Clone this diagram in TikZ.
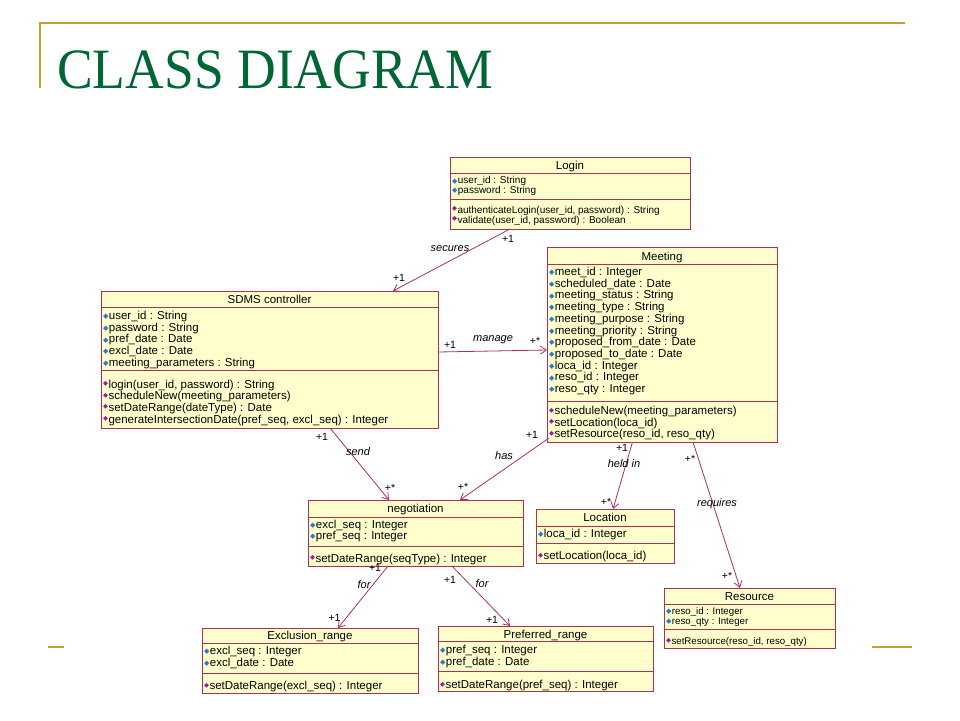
\documentclass[tikz,border=0pt]{standalone}
\usepackage{fontspec}
\usepackage{graphicx}
\setmainfont{Liberation Sans}
\newfontfamily\titlefont{Liberation Serif}
\newfontfamily\symfont{DejaVu Sans}
\usetikzlibrary{arrows.meta}
\definecolor{slidegold}{RGB}{198,160,44}
\definecolor{titlegreen}{RGB}{0,102,51}
\definecolor{boxfill}{RGB}{255,255,206}
\definecolor{boxred}{RGB}{178,48,78}
\definecolor{linkred}{RGB}{170,48,100}
\definecolor{attrblue}{RGB}{40,120,210}
\definecolor{methpurple}{RGB}{160,20,170}
\newcommand\ai{{\symfont\fontsize{7}{7}\selectfont\color{attrblue}\raisebox{0.2ex}{◆}}\hspace{0.3pt}}
\newcommand\mi{{\symfont\fontsize{6.5}{6.5}\selectfont\color{methpurple}\raisebox{0.7ex}{◆}}\hspace{0.3pt}}
\newcommand\bigtxt{\fontsize{11.5}{11.7}\selectfont}
\newcommand\smalltxt{\fontsize{9.7}{9.8}\selectfont}
\newcommand\logintxt{\fontsize{10}{9.8}\selectfont}
\tikzset{
  classbox/.style={draw=boxred, fill=boxfill, line width=0.9pt, inner sep=0pt, outer sep=0pt, rectangle},
  boxline/.style={draw=boxred, line width=0.9pt},
  txt/.style={anchor=north west, inner sep=0pt, align=left},
  ttl/.style={anchor=base, inner sep=0pt, font=\fontsize{11.5}{11.5}\selectfont},
  assoc/.style={draw=linkred, line width=0.8pt, -{Straight Barb[length=6pt,width=8pt]}},
  lbl/.style={inner sep=0pt, font=\fontsize{10.5}{10.5}\selectfont},
  ilbl/.style={inner sep=0pt, font=\fontsize{11}{11}\selectfont\itshape},
  goldline/.style={draw=slidegold, line width=2.2pt}
}
\newcommand\umlclass[7]{%
  \node[classbox, minimum width={(#4)-(#2)}, minimum height={(#5)-(#3)}] (#1) at ({((#2)+(#4))/2},{((#3)+(#5))/2}) {};
  \draw[boxline] (#2,#6) -- (#4,#6);
  \draw[boxline] (#2,#7) -- (#4,#7);
}
\begin{document}
\begin{tikzpicture}[x=1pt,y=-1pt]
\fill[white] (0,0) rectangle (960,720);
\useasboundingbox (0,0) rectangle (960,720);
% slide decoration
\draw[goldline] (40,23) -- (905,23);
\draw[draw=slidegold, line width=1.6pt] (40,22) -- (40,88);
\draw[goldline] (48,647) -- (64,647);
\draw[goldline] (872,647) -- (912,647);
\node[anchor=base west, inner sep=0pt, text=titlegreen, font=\titlefont\fontsize{57}{60}\selectfont] (title) at (57,88) {\scalebox{0.94}[1]{CLASS DIAGRAM}};

% classes
\umlclass{login}{450}{157}{690}{229}{173}{199}
\node[ttl] (login-t) at (570,169) {Login};
\node[txt, font=\logintxt] (login-a) at (452,176.5) {\ai user\_id : String\\\ai password : String};
\node[txt, font=\logintxt] (login-m) at (452,206) {\mi authenticateLogin(user\_id, password) : String\\\mi validate(user\_id, password) : Boolean};

\umlclass{meeting}{547}{247}{777}{442}{264}{401}
\node[ttl] (meeting-t) at (662,260) {Meeting};
\node[txt, font=\bigtxt] (meeting-a) at (549,267) {\ai meet\_id : Integer\\\ai scheduled\_date : Date\\\ai meeting\_status : String\\\ai meeting\_type : String\\\ai meeting\_purpose : String\\\ai meeting\_priority : String\\\ai proposed\_from\_date : Date\\\ai proposed\_to\_date : Date\\\ai loca\_id : Integer\\\ai reso\_id : Integer\\\ai reso\_qty : Integer};
\node[txt, font=\bigtxt] (meeting-m) at (549,406) {\mi scheduleNew(meeting\_parameters)\\\mi setLocation(loca\_id)\\\mi setResource(reso\_id, reso\_qty)};

\umlclass{sdms}{101}{291}{438}{428}{307}{370}
\node[ttl] (sdms-t) at (269.5,303) {SDMS controller};
\node[txt, font=\bigtxt] (sdms-a) at (103,311) {\ai user\_id : String\\\ai password : String\\\ai pref\_date : Date\\\ai excl\_date : Date\\\ai meeting\_parameters : String};
\node[txt, font=\bigtxt] (sdms-m) at (103,379.5) {\mi login(user\_id, password) : String\\\mi scheduleNew(meeting\_parameters)\\\mi setDateRange(dateType) : Date\\\mi generateIntersectionDate(pref\_seq, excl\_seq) : Integer};

\umlclass{negotiation}{308}{500}{523}{566}{517}{546}
\node[ttl] (negotiation-t) at (415.5,512.5) {negotiation};
\node[txt, font=\bigtxt] (negotiation-a) at (310,519.5) {\ai excl\_seq : Integer\\\ai pref\_seq : Integer};
\node[txt, font=\bigtxt] (negotiation-m) at (310,553.5) {\mi setDateRange(seqType) : Integer};

\umlclass{location}{536}{509}{674}{563}{526}{543}
\node[ttl] (location-t) at (605,521.5) {Location};
\node[txt, font=\bigtxt] (location-a) at (538,529) {\ai loca\_id : Integer};
\node[txt, font=\bigtxt] (location-m) at (538,551) {\mi setLocation(loca\_id)};

\umlclass{resource}{664}{588}{835}{648}{604}{629}
\node[ttl] (resource-t) at (749.5,600) {Resource};
\node[txt, font=\smalltxt] (resource-a) at (666,607) {\ai reso\_id : Integer\\\ai reso\_qty : Integer};
\node[txt, font=\smalltxt] (resource-m) at (666,637.5) {\mi setResource(reso\_id, reso\_qty)};

\umlclass{excl}{202}{628}{418}{693}{643}{673}
\node[ttl] (excl-t) at (310,639.5) {Exclusion\_range};
\node[txt, font=\bigtxt] (excl-a) at (204,646) {\ai excl\_seq : Integer\\\ai excl\_date : Date};
\node[txt, font=\bigtxt] (excl-m) at (204,681) {\mi setDateRange(excl\_seq) : Integer};

\umlclass{pref}{438}{626}{653}{691}{641}{671}
\node[ttl] (pref-t) at (545.5,638) {Preferred\_range};
\node[txt, font=\bigtxt] (pref-a) at (440,645) {\ai pref\_seq : Integer\\\ai pref\_date : Date};
\node[txt, font=\bigtxt] (pref-m) at (440,680) {\mi setDateRange(pref\_seq) : Integer};

% associations
\draw[assoc] ([xshift=-60pt]login.south) -- ([xshift=123.5pt]sdms.north);
\draw[assoc] ([yshift=7.5pt]sdms.east) -- ([yshift=-5.5pt]meeting.west);
\draw[assoc] ([xshift=60.5pt]sdms.south) -- ([xshift=-26.5pt]negotiation.north);
\draw[assoc] ([xshift=2pt,yshift=4pt]meeting.south west) -- ([xshift=44.5pt]negotiation.north);
\draw[assoc] ([xshift=-29.5pt]meeting.south) -- ([xshift=8pt]location.north);
\draw[assoc] ([xshift=31pt]meeting.south) -- ([xshift=-9.5pt]resource.north);
\draw[assoc] ([xshift=-27.5pt]negotiation.south) -- ([xshift=28pt]excl.north);
\draw[assoc] ([xshift=36.5pt]negotiation.south) -- ([xshift=-35.5pt]pref.north);

% labels
\node[lbl] (sec1) at (508,239) {+1};
\node[ilbl] (sec) at (450,249) {secures};
\node[lbl] (sec2) at (399,278) {+1};
\node[lbl] (man1) at (450,345) {+1};
\node[ilbl] (man) at (493,339.5) {manage};
\node[lbl] (man2) at (535,341) {+*};
\node[lbl] (snd1) at (322,437) {+1};
\node[ilbl] (snd) at (358,452) {send};
\node[lbl] (snd2) at (390,488) {+*};
\node[lbl] (has1) at (532,435) {+1};
\node[ilbl] (has) at (504,456) {has};
\node[lbl] (has2) at (463,487) {+*};
\node[lbl] (hel1) at (622,447.5) {+1};
\node[ilbl] (hel) at (624,464) {held in};
\node[lbl] (hel2) at (606,501.5) {+*};
\node[lbl] (req1) at (690,459) {+*};
\node[ilbl] (req) at (717,504) {requires};
\node[lbl] (req2) at (727,576) {+*};
\node[lbl] (fx1) at (375,568) {+1};
\node[ilbl] (fx) at (364,584.5) {for};
\node[lbl] (fx2) at (334.5,617.5) {+1};
\node[lbl] (fp1) at (450,580) {+1};
\node[ilbl] (fp) at (482,584) {for};
\node[lbl] (fp2) at (492,620) {+1};
\end{tikzpicture}
\end{document}
